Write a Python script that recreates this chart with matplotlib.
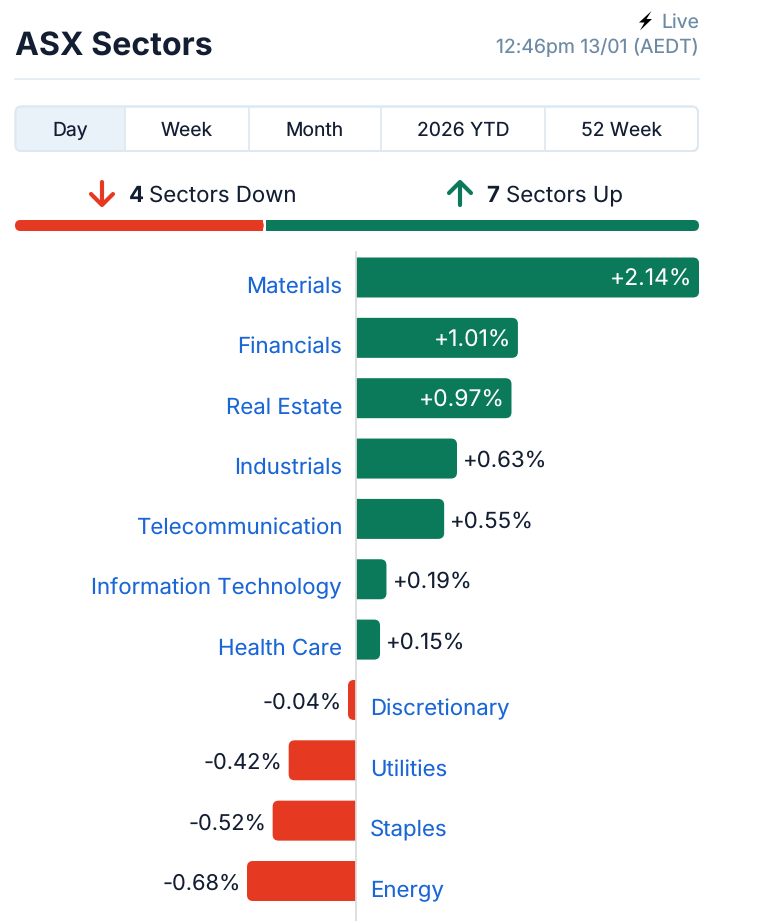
import matplotlib
matplotlib.use("Agg")
import matplotlib.pyplot as plt
from matplotlib.patches import FancyBboxPatch, PathPatch, Rectangle
from matplotlib.path import Path

plt.rcParams['font.family'] = ['Inter', 'DejaVu Sans']
plt.rcParams['text.hinting'] = 'no_hinting'
plt.rcParams['text.hinting_factor'] = 1

sectors = ['Materials', 'Financials', 'Real Estate', 'Industrials', 'Telecommunication',
           'Information Technology', 'Health Care', 'Discretionary', 'Utilities', 'Staples', 'Energy']
changes = [2.14, 1.01, 0.97, 0.63, 0.55, 0.19, 0.15, -0.04, -0.42, -0.52, -0.68]
tabs = ['Day', 'Week', 'Month', '2026 YTD', '52 Week']
sectors_down = 4
sectors_up = 7

GREEN = '#0a7a5a'
RED = '#e63922'
NAVY = '#141e33'
BLUE = '#1a66d6'
SLATE = '#6d8aa5'
LINE = '#dde8f2'

fig = plt.figure(figsize=(7.68, 9.23), dpi=100, facecolor='white')

# whole figure in pixel coordinates for the header furniture
bg = fig.add_axes([0, 0, 1, 1])
bg.set_xlim(0, 768)
bg.set_ylim(923, 0)
bg.axis('off')


def rounded(x0, y0, x1, y1, r, **kw):
    box = FancyBboxPatch((x0 + r, y0 + r), x1 - x0 - 2 * r, y1 - y0 - 2 * r,
                         boxstyle=f'round,pad={r},rounding_size={r}', **kw)
    bg.add_patch(box)
    return box


bg.text(15, 55.7, 'ASX Sectors', fontsize=23.1, fontweight='bold', color=NAVY, va='baseline', ha='left')
bg.text(699, 28, 'Live', fontsize=14, color=SLATE, va='baseline', ha='right')
bg.text(699, 53.3, '12:46pm 13/01 (AEDT)', fontsize=14, color=SLATE, va='baseline', ha='right')
bolt = [(651.5, 11), (639, 22.5), (644.5, 22.5), (640, 30.5), (652, 19), (646.5, 19)]
bg.add_patch(plt.Polygon(bolt, closed=True, fc='black', ec='none'))
bg.plot([15, 699], [78.5, 78.5], color=LINE, lw=1.1)

# period tabs
tab_edges = [15, 125, 249, 381, 545, 698]
rounded(15.5, 106.5, 698, 151, 6, fc='white', ec=LINE, lw=1.4, zorder=1)
clip = rounded(15.5, 106.5, 698, 151, 6, fc='none', ec='none')
sel = Rectangle((15, 106), 110, 45, fc='#e9f1f9', ec='none', zorder=1.5)
bg.add_patch(sel)
sel.set_clip_path(clip)
rounded(15.5, 106.5, 698, 151, 6, fc='none', ec=LINE, lw=1.4, zorder=2)
for edge in tab_edges[1:-1]:
    bg.plot([edge, edge], [106.5, 151], color=LINE, lw=1.2, zorder=2)
for left, right, tab in zip(tab_edges[:-1], tab_edges[1:], tabs):
    bg.text((left + right) / 2, 136, tab, fontsize=13.9, color=NAVY, ha='center', va='baseline', zorder=3)

# up and down summary
for xs, ys in [([102, 102], [181.5, 204]), ([91, 102, 113], [194, 205, 194])]:
    bg.plot(xs, ys, color=RED, lw=3, solid_capstyle='round', solid_joinstyle='round')
for xs, ys in [([460, 460], [205, 182.5]), ([449, 460, 471], [193, 182, 193])]:
    bg.plot(xs, ys, color=GREEN, lw=3, solid_capstyle='round', solid_joinstyle='round')
bg.text(129, 201.7, str(sectors_down), fontsize=16, fontweight='bold', color=NAVY, va='baseline')
bg.text(149, 201.7, 'Sectors Down', fontsize=16, color=NAVY, va='baseline')
bg.text(486.5, 201.7, str(sectors_up), fontsize=16, fontweight='bold', color=NAVY, va='baseline')
bg.text(506, 201.7, 'Sectors Up', fontsize=16, color=NAVY, va='baseline')

# split bar, width follows the sector counts
split = 15 + 684 * sectors_down / (sectors_down + sectors_up)
bg.add_patch(FancyBboxPatch((20.5, 225.5), split - 26, 0, boxstyle='round,pad=5.5,rounding_size=5.5',
                            fc=RED, ec='none'))
bg.add_patch(Rectangle((split - 10, 220), 9.5, 11, fc=RED, ec='none'))
bg.add_patch(FancyBboxPatch((split + 8, 225.5), 699 - split - 13.5, 0, boxstyle='round,pad=5.5,rounding_size=5.5',
                            fc=GREEN, ec='none'))
bg.add_patch(Rectangle((split + 2.5, 220), 10, 11, fc=GREEN, ec='none'))

# chart axes: x in percent, y in rows
px_per_pct = 160.3
px_per_row = 60.35
top_px = 251
bottom_px = 921
zero_px = 356
ax_left = 15
ax_right = 699
ax = fig.add_axes([ax_left / 768, 1 - bottom_px / 923, (ax_right - ax_left) / 768, (bottom_px - top_px) / 923])
ax.set_xlim((ax_left - zero_px) / px_per_pct, (ax_right - zero_px) / px_per_pct)
ax.set_ylim((bottom_px - 277.5) / px_per_row, (top_px - 277.5) / px_per_row)
ax.axis('off')
ax.patch.set_alpha(0)

bar_h = 40 / px_per_row
rx = 6 / px_per_pct
ry = 6 / px_per_row
min_w = 8 / px_per_pct
PT = 0.72


def bar_end(value):
    # very small moves still get a visible stub
    return value if abs(value) >= min_w else (min_w if value > 0 else -min_w)


def bar_path(row, value):
    end = bar_end(value)
    s = 1 if end > 0 else -1
    t, b = row - bar_h / 2, row + bar_h / 2
    verts = [(0, t), (end - s * rx, t), (end, t), (end, t + ry), (end, b - ry), (end, b),
             (end - s * rx, b), (0, b), (0, t)]
    codes = [Path.MOVETO, Path.LINETO, Path.CURVE3, Path.CURVE3, Path.LINETO, Path.CURVE3,
             Path.CURVE3, Path.LINETO, Path.CLOSEPOLY]
    return Path(verts, codes)


for row, (name, value) in enumerate(zip(sectors, changes)):
    ax.add_patch(PathPatch(bar_path(row, value), fc=GREEN if value > 0 else RED, ec='none'))
    label = f'{value:+.2f}%'
    name_y = row + 15.3 / px_per_row
    value_y = row + 8.6 / px_per_row
    end = bar_end(value)
    if value > 0:
        ax.annotate(name, (0, name_y), xytext=(-14 * PT, 0), textcoords='offset points',
                    ha='right', va='baseline', fontsize=16, color=BLUE)
        if value > 0.9:
            ax.annotate(label, (end, value_y), xytext=(-7 * PT, 0), textcoords='offset points',
                        ha='right', va='baseline', fontsize=16.5, color='white')
        else:
            ax.annotate(label, (end, value_y), xytext=(6 * PT, 0), textcoords='offset points',
                        ha='left', va='baseline', fontsize=16, color=NAVY)
    else:
        ax.annotate(name, (0, name_y), xytext=(14 * PT, 0), textcoords='offset points',
                    ha='left', va='baseline', fontsize=16, color=BLUE)
        ax.annotate(label, (end, value_y), xytext=(-6.5 * PT, 0), textcoords='offset points',
                    ha='right', va='baseline', fontsize=15.7, color=NAVY)

ax.axvline(0, color='#dcdcdc', lw=1.3, zorder=3)

fig.savefig('out.png', dpi=100)
